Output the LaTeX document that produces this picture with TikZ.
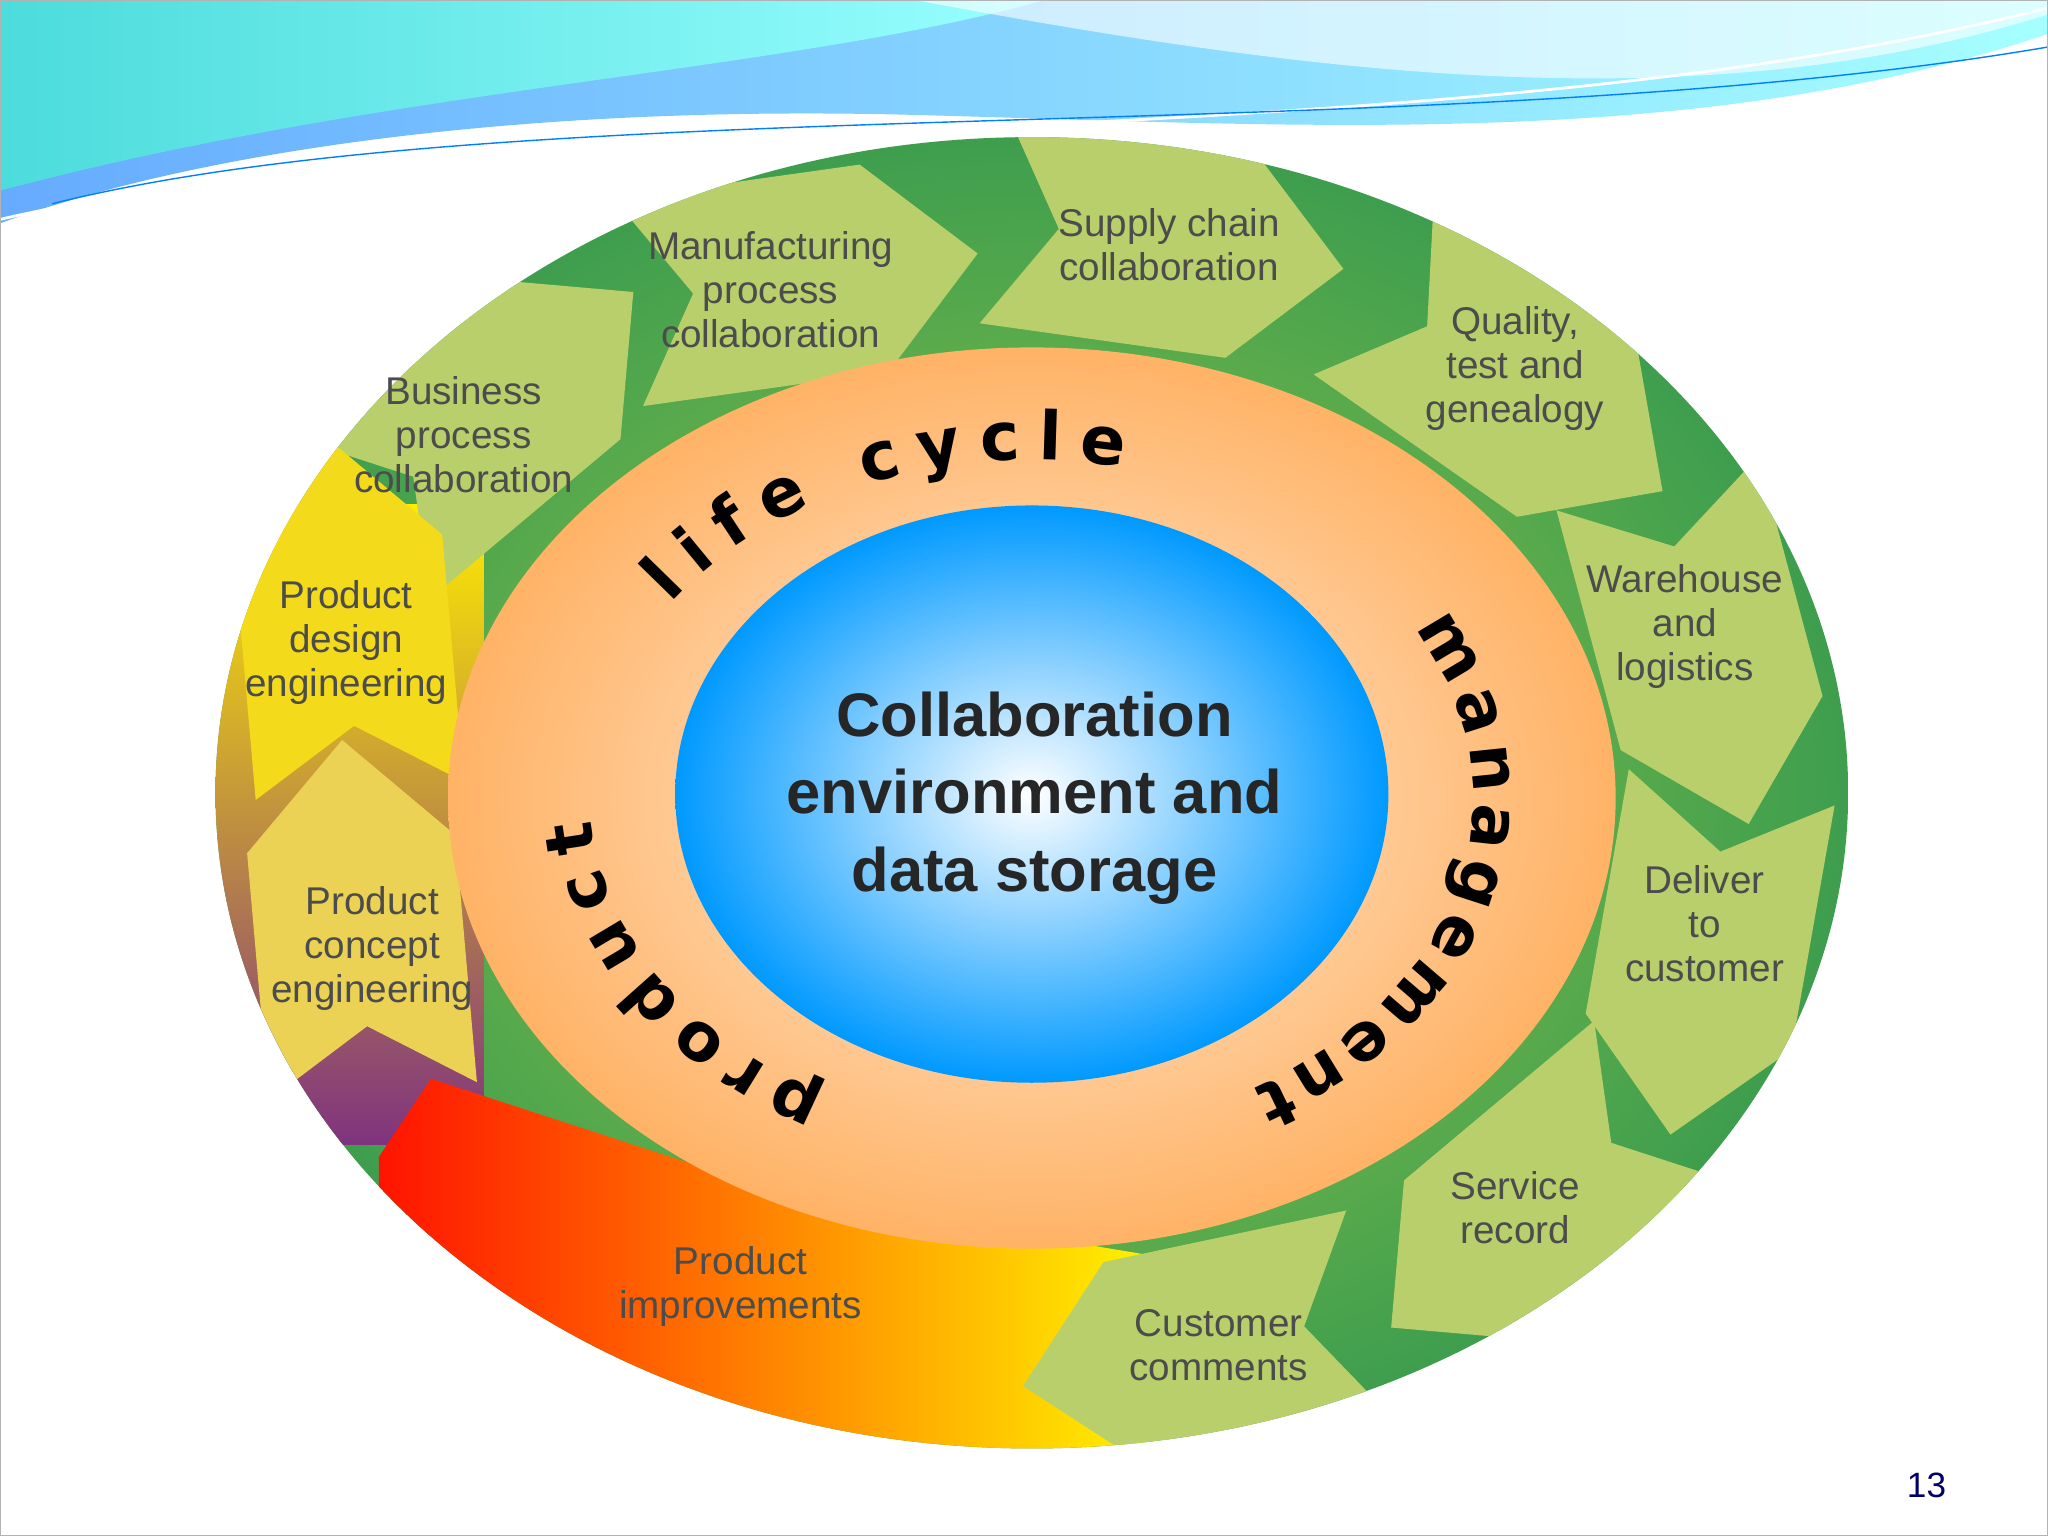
\documentclass[tikz,border=0pt]{standalone}
\usepackage{fontspec}
\setmainfont{Liberation Sans}
\newfontfamily\ringfont{DejaVu Sans}
\usetikzlibrary{calc,decorations.text,shapes.geometric}
\definecolor{ltgreen}{HTML}{B8CF6C}
\definecolor{dkgreen}{HTML}{3E9E4E}
\definecolor{midgreen}{HTML}{7DB857}
\tikzset{lbl/.style={font=\fontsize{11}{12.5}\selectfont, text=black!70, align=center},
 ringtxt/.style={decorate, decoration={text along path, text align=fit to path, text={|\ringfont\fontsize{19}{19}\selectfont\bfseries|#1}}}}
\newcommand{\myarrow}[4]{%
 \begin{scope}[shift={(#1,#2)}, rotate=#3]
 \fill[#4] (-120,-80)--(70,-80)--(150,0)--(70,80)--(-120,80)--(-70,0)--cycle;
 \end{scope}}
\begin{document}
\begin{tikzpicture}[x=0.01306cm,y=0.01306cm]
\useasboundingbox (0,0) rectangle (1568,1176);
\fill[white] (0,0) rectangle (1568,1176);
% top wave
\shade[left color=cyan!45!blue!60, right color=cyan!35] (0,1176)--(1568,1176)--(1568,1150) .. controls (1300,1060) and (1000,1080) .. (700,1088) .. controls (400,1096) and (150,1060) .. (0,1005) -- cycle;
\shade[left color=cyan!60!teal!70, right color=cyan!40!white] (0,1176)--(800,1176) .. controls (600,1120) and (300,1110) .. (0,1030)--cycle;
\fill[white,opacity=0.6] (700,1176) .. controls (1000,1120) and (1300,1080) .. (1568,1165) -- (1568,1176) -- cycle;
\draw[white,thick] (0,1008) .. controls (400,1100) and (1100,1050) .. (1568,1170);
\draw[blue!50!cyan,thin] (40,1020) .. controls (400,1110) and (1100,1060) .. (1568,1140);
% outer green
\coordinate (C) at (790,566);
\shade[inner color=midgreen!80!yellow, outer color=dkgreen] (790,569) ellipse[x radius=625,y radius=502];
\begin{scope}
\clip (790,569) ellipse[x radius=625,y radius=502];
\shade[top color=yellow!85!orange, bottom color=violet!60!gray] (150,300) rectangle (370,790);
\shade[left color=red!85!orange, right color=yellow!90!orange] (290,0)--(290,290)--(330,350)--(600,262)--(880,215)--(880,0)--cycle;
\myarrow{370}{856}{40}{ltgreen}
\myarrow{600}{961}{8}{ltgreen}
\myarrow{880}{991}{-8}{ltgreen}
\myarrow{1150}{886}{-35}{ltgreen}
\myarrow{1300}{690}{-75}{ltgreen}
\myarrow{1305}{455}{-100}{ltgreen}
\myarrow{1180}{256}{-140}{ltgreen}
\myarrow{930}{146}{-168}{ltgreen}
\myarrow{275}{460}{95}{yellow!70!orange!80!gray!80}
\myarrow{265}{690}{95}{yellow!85!orange!90!gray}
\end{scope}
% orange ring
\shade[inner color=orange!15, outer color=orange!60] (790,565) ellipse[x radius=447,y radius=345];
\shade[inner color=white, outer color=cyan!60!blue] (790,568) ellipse[x radius=273,y radius=221];
\node[font=\fontsize{17.5}{22}\selectfont\bfseries, align=center, text=black!85] (center) at (792,565) {Collaboration\\environment and\\data storage};
% ring text
\path[ringtxt={life cycle}] ($(C)+(145:338 and 258)$) arc[start angle=145,end angle=78,x radius=338,y radius=258];
\path[ringtxt={management}] ($(C)+(30:338 and 258)$) arc[start angle=30,end angle=-60,x radius=338,y radius=258];
\path[ringtxt={product}] ($(C)+(-118:338 and 258)$) arc[start angle=-118,end angle=-176,x radius=338,y radius=258];
% labels
\node[lbl] (b) at (355,843) {Business\\process\\collaboration};
\node[lbl] (m) at (590,954) {Manufacturing\\process\\collaboration};
\node[lbl] (s) at (895,989) {Supply chain\\collaboration};
\node[lbl] (q) at (1160,894) {Quality,\\test and\\genealogy};
\node[lbl] (w) at (1290,696) {Warehouse\\and\\logistics};
\node[lbl] (d) at (1305,469) {Deliver\\to\\customer};
\node[lbl] (sr) at (1160,251) {Service\\record};
\node[lbl] (cc) at (933,146) {Customer\\comments};
\node[lbl] (pi) at (567,191) {Product\\improvements};
\node[lbl] (pc) at (285,450) {Product\\concept\\engineering};
\node[lbl] (pd) at (265,684) {Product\\design\\engineering};
\node[font=\fontsize{10}{12}\selectfont, text=blue!40!black] (pg) at (1475,39) {13};
\draw[gray!60] (0,0) rectangle (1568,1176);
\end{tikzpicture}
\end{document}
